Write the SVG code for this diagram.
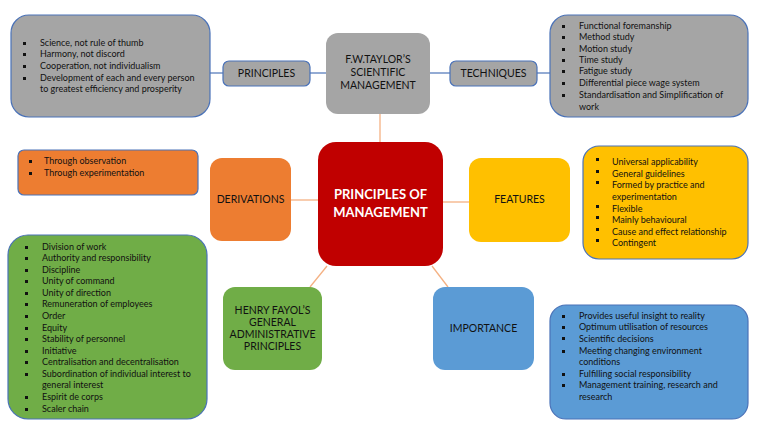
<svg xmlns="http://www.w3.org/2000/svg" width="768" height="433" viewBox="0 0 768 433">
<style>
text{font-family:Lato,"Open Sans","Liberation Sans",sans-serif;font-size:9px;fill:#111}
.t{font-size:10.5px;text-anchor:middle}
.gray{fill:#a5a5a5}
.lst{stroke:#4a72b8;stroke-width:1.2}
.b{fill:#111}
.c{stroke:#4a72b8;stroke-width:1.2;fill:none}
.o{stroke:#f4b183;stroke-width:1.3;fill:none}
</style>
<defs><rect id="bu" width="3" height="3" class="b"/></defs>
<rect width="768" height="433" fill="#fff"/>
<g id="connectors">
<line class="c" x1="210" y1="73" x2="223" y2="73"/>
<line class="c" x1="310" y1="73" x2="326" y2="73"/>
<line class="c" x1="430" y1="73" x2="450" y2="73"/>
<line class="c" x1="537" y1="73" x2="550" y2="73"/>
<line class="o" x1="380" y1="114" x2="380" y2="142" stroke="#ed7d31"/>
<line class="o" x1="291" y1="200" x2="318" y2="200"/>
<line class="o" x1="443" y1="202" x2="469" y2="202"/>
<line class="o" x1="432" y1="266" x2="448" y2="287"/>
<line class="o" x1="327" y1="266" x2="310" y2="287"/>
</g>
<g id="taylor-principles-list">
<rect x="11" y="15" width="199" height="102" rx="18" class="gray lst"/>
<use href="#bu" x="23" y="42"/><use href="#bu" x="23" y="53"/><use href="#bu" x="23" y="65"/><use href="#bu" x="23" y="77"/>
<text x="40" y="46">Science, not rule of thumb</text>
<text x="40" y="57">Harmony, not discord</text>
<text x="40" y="69">Cooperation, not individualism</text>
<text x="40" y="81">Development of each and every person</text>
<text x="40" y="92">to greatest efficiency and prosperity</text>
</g>
<g id="principles"><rect x="223" y="61" width="87" height="25" rx="6" class="gray lst"/><text class="t" x="266.5" y="77">PRINCIPLES</text></g>
<g id="taylor"><rect x="326" y="33" width="104" height="81" rx="12" class="gray"/>
<text class="t" x="378" y="63">F.W.TAYLOR’S</text><text class="t" x="378" y="76">SCIENTIFIC</text><text class="t" x="378" y="89">MANAGEMENT</text></g>
<g id="techniques"><rect x="450" y="61" width="87" height="25" rx="6" class="gray lst"/><text class="t" x="493.5" y="77">TECHNIQUES</text></g>
<g id="techniques-list">
<rect x="550" y="15" width="198" height="102" rx="18" class="gray lst"/>
<use href="#bu" x="562" y="25"/><use href="#bu" x="562" y="36"/><use href="#bu" x="562" y="48"/><use href="#bu" x="562" y="59"/><use href="#bu" x="562" y="70"/><use href="#bu" x="562" y="82"/><use href="#bu" x="562" y="94"/>
<text x="579" y="29">Functional foremanship</text>
<text x="579" y="40">Method study</text>
<text x="579" y="52">Motion study</text>
<text x="579" y="63">Time study</text>
<text x="579" y="74">Fatigue study</text>
<text x="579" y="86">Differential piece wage system</text>
<text x="579" y="98">Standardisation and Simplification of</text>
<text x="579" y="110">work</text>
</g>
<g id="center"><rect x="318" y="142" width="125" height="124" rx="18" fill="#c00000"/>
<text class="t" x="380.5" y="199" style="font-size:13px;font-weight:bold;fill:#fff">PRINCIPLES OF</text>
<text class="t" x="380.5" y="217" style="font-size:13px;font-weight:bold;fill:#fff">MANAGEMENT</text></g>
<g id="derivations-list"><rect x="18" y="150" width="180" height="45" rx="6" fill="#ed7d31" class="lst"/>
<use href="#bu" x="29" y="160"/><use href="#bu" x="29" y="172"/>
<text x="44" y="164">Through observation</text><text x="44" y="176">Through experimentation</text></g>
<g id="derivations"><rect x="210" y="158" width="81" height="83" rx="12" fill="#ed7d31"/><text class="t" x="250.5" y="203">DERIVATIONS</text></g>
<g id="features"><rect x="469" y="158" width="101" height="84" rx="12" fill="#ffc000"/><text class="t" x="519.5" y="203">FEATURES</text></g>
<g id="features-list"><rect x="583" y="146" width="165" height="113" rx="16" fill="#ffc000" class="lst"/>
<use href="#bu" x="596" y="158"/><use href="#bu" x="596" y="170"/><use href="#bu" x="596" y="181"/><use href="#bu" x="596" y="205"/><use href="#bu" x="596" y="216"/><use href="#bu" x="596" y="228"/><use href="#bu" x="596" y="239"/>
<text x="612" y="165">Universal applicability</text>
<text x="612" y="177">General guidelines</text>
<text x="612" y="188">Formed by practice and</text>
<text x="612" y="200">experimentation</text>
<text x="612" y="212">Flexible</text>
<text x="612" y="223">Mainly behavioural</text>
<text x="612" y="235">Cause and effect relationship</text>
<text x="612" y="246">Contingent</text></g>
<g id="importance"><rect x="433" y="287" width="101" height="83" rx="12" fill="#5b9bd5"/><text class="t" x="483.5" y="332">IMPORTANCE</text></g>
<g id="importance-list"><rect x="550" y="305" width="198" height="114" rx="16" fill="#5b9bd5" class="lst"/>
<use href="#bu" x="562" y="315"/><use href="#bu" x="562" y="326"/><use href="#bu" x="562" y="337"/><use href="#bu" x="562" y="350"/><use href="#bu" x="562" y="373"/><use href="#bu" x="562" y="384"/>
<text x="579" y="319">Provides useful insight to reality</text>
<text x="579" y="330">Optimum utilisation of resources</text>
<text x="579" y="342">Scientific decisions</text>
<text x="579" y="354">Meeting changing environment</text>
<text x="579" y="365">conditions</text>
<text x="579" y="377">Fulfilling social responsibility</text>
<text x="579" y="388">Management training, research and</text>
<text x="579" y="400">research</text></g>
<g id="fayol"><rect x="223" y="287" width="99" height="83" rx="12" fill="#70ad47"/>
<text class="t" x="272.5" y="314">HENRY FAYOL’S</text><text class="t" x="272.5" y="326">GENERAL</text><text class="t" x="272.5" y="338">ADMINISTRATIVE</text><text class="t" x="272.5" y="350">PRINCIPLES</text></g>
<g id="fayol-list"><rect x="8" y="235" width="199" height="184" rx="20" fill="#70ad47" class="lst"/>
<g transform="translate(25,0)">
<use href="#bu" y="246"/><use href="#bu" y="257"/><use href="#bu" y="269"/><use href="#bu" y="280"/><use href="#bu" y="292"/><use href="#bu" y="303"/><use href="#bu" y="315"/><use href="#bu" y="327"/><use href="#bu" y="338"/><use href="#bu" y="350"/><use href="#bu" y="361"/><use href="#bu" y="373"/><use href="#bu" y="396"/><use href="#bu" y="408"/></g>
<text x="42" y="250">Division of work</text>
<text x="42" y="261">Authority and responsibility</text>
<text x="42" y="273">Discipline</text>
<text x="42" y="284">Unity of command</text>
<text x="42" y="296">Unity of direction</text>
<text x="42" y="307">Remuneration of employees</text>
<text x="42" y="319">Order</text>
<text x="42" y="331">Equity</text>
<text x="42" y="342">Stability of personnel</text>
<text x="42" y="354">Initiative</text>
<text x="42" y="365">Centralisation and decentralisation</text>
<text x="42" y="377">Subordination of individual interest to</text>
<text x="42" y="388">general interest</text>
<text x="42" y="400">Espirit de corps</text>
<text x="42" y="412">Scaler chain</text></g>
</svg>
